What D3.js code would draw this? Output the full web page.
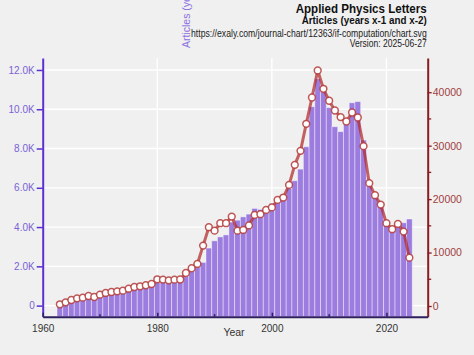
<!DOCTYPE html>
<html>
<head>
<meta charset="utf-8">
<script src="https://cdn.jsdelivr.net/npm/d3@7"></script>
<style>
  html, body { margin: 0; padding: 0; background: #f0f0f0; }
  svg { display: block; font-family: "Liberation Sans", Arial, sans-serif; }
</style>
</head>
<body>
<svg id="chart" width="474" height="355"></svg>
<script>
// ---- data ----
const years = [1963,1964,1965,1966,1967,1968,1969,1970,1971,1972,1973,1974,1975,1976,1977,1978,1979,
  1980,1981,1982,1983,1984,1985,1986,1987,1988,1989,1990,1991,1992,1993,1994,1995,1996,1997,1998,1999,
  2000,2001,2002,2003,2004,2005,2006,2007,2008,2009,2010,2011,2012,2013,2014,2015,2016,2017,2018,2019,
  2020,2021,2022,2023,2024];
const articles = [30,90,210,300,330,410,360,480,560,620,650,680,780,870,910,960,1020,
  1180,1200,1150,1170,1190,1470,1730,1950,2200,2930,3300,3500,3600,4250,4350,4520,4660,4950,4900,5030,
  5200,5380,5630,5970,6360,6950,8090,10130,11550,10890,10080,9110,8860,9370,10330,10390,8430,6190,5720,5120,
  4190,3940,4220,4220,4410];
const citations = [320,690,1120,1440,1560,1870,1690,2120,2440,2620,2750,2870,3240,3560,3690,3880,4120,
  5000,4940,4800,4930,4960,6180,7060,7870,11300,14740,14100,15490,15490,16730,14100,14230,15080,17040,17180,17980,
  18450,19850,20290,22660,26410,29030,34090,39010,44070,40640,38400,36580,35340,34520,36200,35270,29910,22980,20730,18970,
  15490,14370,15360,13920,9050];
const leftTicks = [0,2000,4000,6000,8000,10000,12000];
const rightTicks = [0,10000,20000,30000,40000];
const rightMinor = [5000,15000,25000,35000];
const xTicks = [1960,1980,2000,2020];
const xMinor = [1970,1990,2010];
const titleLines = ["Applied Physics Letters","Articles (years x-1 and x-2)",
  "https://exaly.com/journal-chart/12363/if-computation/chart.svg","Version: 2025-06-27"];
const leftLabel = "Articles (years x-1 and x-2)";
const xLabel = "Year";

// ---- layout ----
const L = 42.7, R = 427.7, T = 58, B = 316.7;
const svg = d3.select("#chart");
svg.append("rect").attr("width",474).attr("height",355).attr("fill","#f0f0f0");

const x = d3.scaleLinear().domain([1960, 2027.2]).range([L, R]);
const yL = d3.scaleLinear().domain([-565, 12610]).range([B, T]);
const yR = d3.scaleLinear().domain([-2000, 46400]).range([B, T]);

// gridlines
const grid = svg.append("g");
grid.selectAll("line.h").data(leftTicks).join("line")
  .attr("x1", L).attr("x2", R).attr("y1", d=>yL(d)).attr("y2", d=>yL(d))
  .attr("stroke","#fff").attr("stroke-width",1.3);
grid.selectAll("line.v").data(xTicks).join("line")
  .attr("x1", d=>x(d)).attr("x2", d=>x(d)).attr("y1", T).attr("y2", B)
  .attr("stroke","#fff").attr("stroke-width",1.3);

// bars
svg.append("g").selectAll("rect").data(years).join("rect")
  .attr("x", d=>x(d-0.5)).attr("width", d=>x(d+0.5)-x(d-0.5))
  .attr("y", (d,i)=>yL(articles[i])).attr("height", (d,i)=>B-yL(articles[i]))
  .attr("fill","#9c7ddf").attr("stroke","#ffffff").attr("stroke-opacity",0.45).attr("stroke-width",0.9);

// line
const line = d3.line().x((d,i)=>x(years[i])).y(d=>yR(d));
svg.append("path").datum(citations).attr("d", line)
  .attr("fill","none").attr("stroke","#b22a2a").attr("stroke-opacity",0.72)
  .attr("stroke-width",3).attr("stroke-linejoin","round");
svg.append("g").selectAll("circle").data(citations).join("circle")
  .attr("cx",(d,i)=>x(years[i])).attr("cy",d=>yR(d)).attr("r",3.4)
  .attr("fill","#fff").attr("stroke","#b33a3a").attr("stroke-opacity",0.85).attr("stroke-width",1.5);

// left axis
const gL = svg.append("g").attr("transform",`translate(${L},0)`)
  .call(d3.axisLeft(yL).tickValues(leftTicks).tickSize(6).tickSizeOuter(0).tickPadding(2)
    .tickFormat(d => d===0 ? "0" : (d/1000).toFixed(1)+"K"));
gL.select(".domain").attr("stroke","#5b2fd0").attr("stroke-width",2);
gL.selectAll(".tick line").attr("stroke","#5b2fd0").attr("stroke-width",1.5);
gL.selectAll(".tick text").attr("fill","#7a62d6").style("font-size","10px").style("font-family","Liberation Sans, Arial, sans-serif");

// right axis
const gR = svg.append("g").attr("transform",`translate(${R},0)`)
  .call(d3.axisRight(yR).tickValues(rightTicks).tickSize(4).tickSizeOuter(0).tickPadding(1)
    .tickFormat(d3.format("d")));
gR.select(".domain").attr("stroke","#8b1c24").attr("stroke-width",2);
gR.selectAll(".tick line").attr("stroke","#8b1c24").attr("stroke-width",1.3);
gR.selectAll(".tick text").attr("fill","#a0403f").style("font-size","10.5px").style("font-family","Liberation Sans, Arial, sans-serif");
gR.append("g").selectAll("line").data(rightMinor).join("line")
  .attr("x1",0).attr("x2",3.5).attr("y1",d=>yR(d)).attr("y2",d=>yR(d))
  .attr("stroke","#8b1c24").attr("stroke-width",1.3);

// bottom axis
const gB = svg.append("g").attr("transform",`translate(0,${B})`)
  .call(d3.axisBottom(x).tickValues(xTicks).tickSizeInner(-4).tickSizeOuter(0).tickPadding(8)
    .tickFormat(d3.format("d")));
gB.select(".domain").attr("stroke","#2e1f5e").attr("stroke-width",2);
gB.selectAll(".tick line").attr("stroke","#2e1f5e").attr("stroke-width",1.5);
gB.selectAll(".tick text").attr("fill","#333").style("font-size","10px").style("font-family","Liberation Sans, Arial, sans-serif");
gB.append("g").selectAll("line").data(xMinor).join("line")
  .attr("x1",d=>x(d)).attr("x2",d=>x(d)).attr("y1",0).attr("y2",-2.5)
  .attr("stroke","#2e1f5e").attr("stroke-width",1.5);

// axis labels
svg.append("text").attr("transform","translate(234,336)").attr("text-anchor","middle")
  .attr("fill","#333").style("font-size","10.5px").text(xLabel);
svg.append("text").attr("transform","translate(189.5,48) rotate(-90)").attr("text-anchor","start")
  .attr("fill","#8a6fe0").style("font-size","10.5px").text(leftLabel);

// title block
const tspec = [
  {y:12.7, size:13, weight:"bold", len:131, fill:"#111"},
  {y:24.2, size:11.5, weight:"bold", len:125, fill:"#111"},
  {y:36.5, size:10, weight:"normal", len:235.7, fill:"#222"},
  {y:46.7, size:10, weight:"normal", len:77, fill:"#222"}
];
titleLines.forEach((t,i)=>{
  const s = tspec[i];
  svg.append("text").attr("x",426.7).attr("y",s.y).attr("text-anchor","end")
    .attr("fill",s.fill).style("font-size",s.size+"px").style("font-weight",s.weight)
    .attr("textLength",s.len).attr("lengthAdjust","spacingAndGlyphs").text(t);
});
</script>
</body>
</html>
